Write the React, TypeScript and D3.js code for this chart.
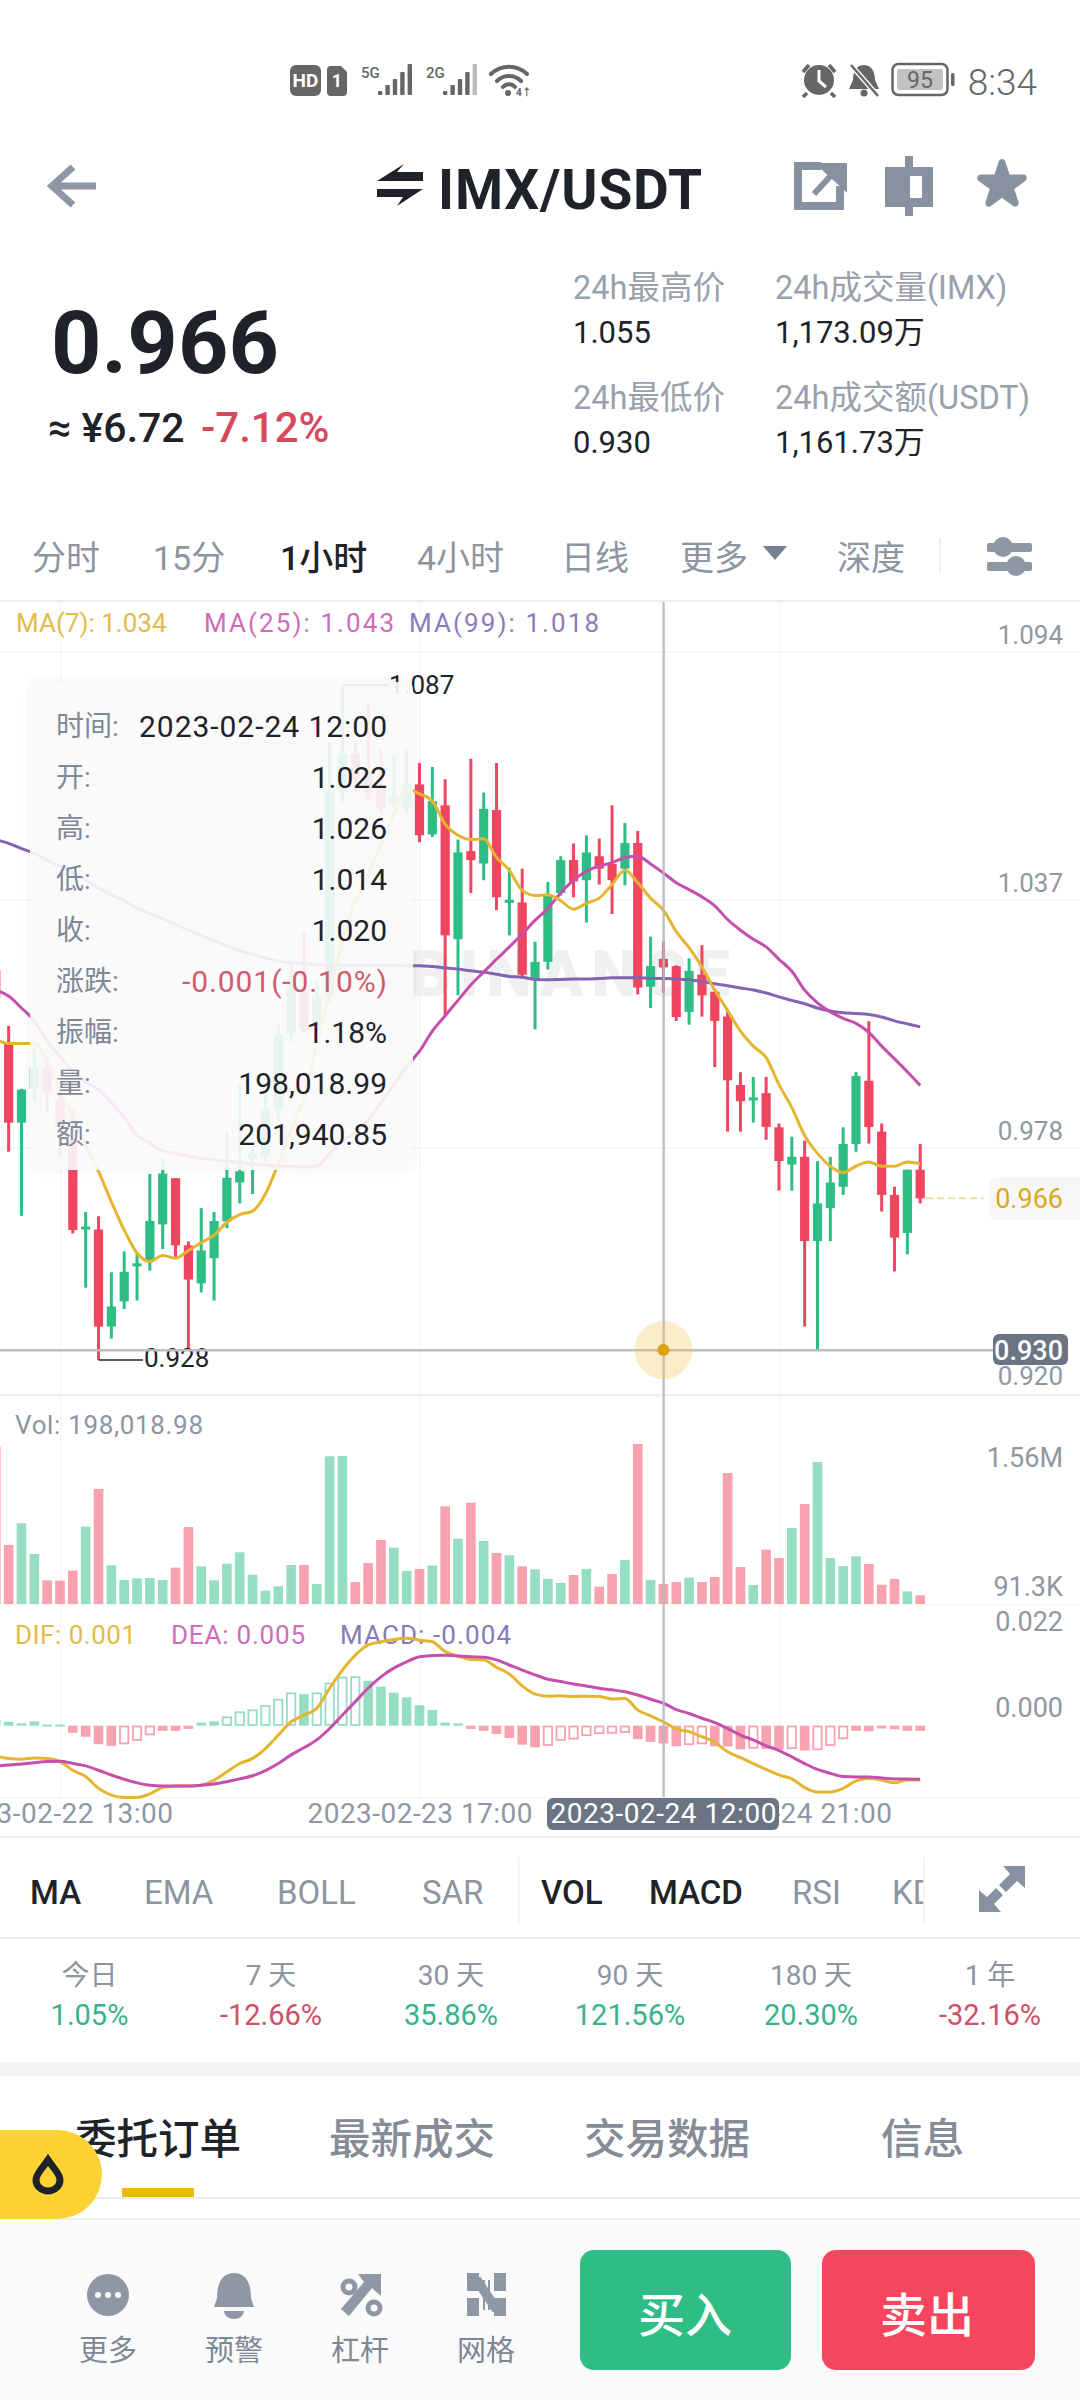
import * as d3 from "d3";

// candles run from one bar left of the visible edge up to the last hour
const opens = [1.0194,1.0022,0.9837,0.9916,0.9965,0.989,0.9796,0.959,0.9587,0.936,0.9419,0.9504,0.9514,0.9599,0.9707,0.955,0.9461,0.952,0.9606,0.9697,0.9753,0.9759,0.9867,1.0047,1.0147,1.0061,1.0135,1.0612,1.07,1.0655,1.0622,1.0585,1.0573,1.0628,1.0511,1.0579,1.0266,1.0472,1.0443,1.0568,1.0352,1.0352,1.0171,1.0213,1.0374,1.0451,1.0404,1.046,1.0442,1.0431,1.0491,1.0155,1.022,1.0203,1.0096,1.0183,1.0143,1.0085,0.9925,0.989,0.9906,0.9826,0.9739,0.9757,0.956,0.9637,0.9687,0.9787,0.9935,0.9816,0.9668,0.9579,0.9727];
const closes = [1.013,0.9837,0.9914,0.9965,0.9906,0.9827,0.9586,0.9594,0.936,0.9407,0.9488,0.9508,0.9607,0.9718,0.955,0.947,0.9538,0.9607,0.9708,0.9723,0.9765,0.9866,1.0042,1.0154,1.0054,1.0131,1.0612,1.07,1.064,1.0608,1.0573,1.06,1.0629,1.0509,1.0589,1.0275,1.0469,1.0451,1.0571,1.0364,1.0358,1.0183,1.0213,1.0371,1.0451,1.0401,1.0469,1.0431,1.0404,1.0491,1.0153,1.0203,1.02,1.0084,1.0192,1.0135,1.0075,0.9936,0.9887,0.9896,0.9827,0.9747,0.9757,0.956,0.9648,0.9697,0.9787,0.9946,0.9827,0.9668,0.9568,0.9727,0.966];
const highs = [1.022,1.0063,0.9916,1.0014,0.9991,0.9913,0.9866,0.9628,0.9618,0.9487,0.9536,0.9532,0.9717,0.9753,0.9707,0.9559,0.9637,0.9628,0.9816,0.9926,0.9781,0.9914,1.0066,1.0213,1.0283,1.0171,1.0726,1.086,1.0725,1.0819,1.0709,1.0697,1.0709,1.0678,1.0669,1.064,1.0499,1.0688,1.0609,1.0678,1.0433,1.0431,1.026,1.04,1.046,1.049,1.0509,1.0501,1.0579,1.0538,1.0519,1.0272,1.026,1.0205,1.0221,1.0252,1.0143,1.0102,0.9955,0.9944,0.9944,0.9835,0.9804,0.9795,0.9747,0.9757,0.9826,0.9955,1.0074,0.9835,0.9687,0.9727,0.9787];
const lows = [1.01,0.9769,0.9619,0.9885,0.986,0.9757,0.9578,0.9451,0.9282,0.9332,0.9401,0.9421,0.9491,0.9541,0.952,0.9306,0.944,0.9421,0.959,0.9648,0.967,0.9747,0.984,1.0026,1.0045,1.005,1.012,1.0583,1.0608,1.059,1.0561,1.0575,1.0561,1.0493,1.0505,1.0087,1.0135,1.0374,1.0404,1.0334,1.0275,1.0177,1.0055,1.0195,1.0368,1.0364,1.0305,1.0394,1.0325,1.0392,1.0137,1.0105,1.014,1.0075,1.0066,1.0085,0.9967,0.9816,0.9816,0.9837,0.9797,0.9678,0.9678,0.936,0.9303,0.956,0.9668,0.9769,0.9788,0.9629,0.9489,0.9529,0.9648];

const ma7 = [1.0031,1.0022,1.0022,1.0022,0.998,0.9914,0.9849,0.9783,0.9723,0.9652,0.9586,0.9532,0.9512,0.9526,0.952,0.9538,0.9556,0.9574,0.9604,0.9622,0.963,0.967,0.9741,0.9819,0.9896,1.0022,1.0141,1.026,1.0356,1.0416,1.0487,1.0559,1.0618,1.0606,1.0589,1.0535,1.0509,1.0499,1.0501,1.0457,1.0427,1.038,1.0368,1.037,1.0356,1.0336,1.035,1.0362,1.0394,1.0427,1.0398,1.0362,1.0334,1.0284,1.0246,1.0201,1.0147,1.0099,1.0051,1.0016,0.9989,0.9926,0.9872,0.9807,0.9765,0.9735,0.972,0.9735,0.9745,0.9735,0.9735,0.9745,0.9741];
const ma25 = [1.0147,1.0133,1.0105,1.0075,1.0028,0.9992,0.9956,0.9932,0.9914,0.9884,0.9849,0.9807,0.9789,0.9771,0.9765,0.9759,0.9753,0.975,0.9747,0.9744,0.974,0.9738,0.9735,0.9735,0.9733,0.9735,0.9765,0.9795,0.9813,0.9843,0.9884,0.9926,0.9968,1.0004,1.0051,1.0087,1.0123,1.0159,1.0189,1.0219,1.0248,1.0278,1.031,1.0338,1.0374,1.0404,1.0425,1.0437,1.0445,1.0457,1.046,1.0442,1.0421,1.0398,1.0382,1.0365,1.0344,1.0312,1.0287,1.0266,1.0248,1.0219,1.0191,1.0147,1.0117,1.0096,1.0081,1.0069,1.0048,1.0016,0.9986,0.9956,0.9924];
const ma99 = [1.0499,1.049,1.0478,1.0467,1.0451,1.0437,1.0421,1.0404,1.0386,1.037,1.0356,1.0338,1.0326,1.0314,1.03,1.0288,1.0275,1.0263,1.0251,1.0239,1.0231,1.0222,1.0215,1.0211,1.0209,1.0207,1.0205,1.0205,1.0205,1.0205,1.0205,1.0205,1.0204,1.0204,1.0202,1.0199,1.0196,1.0192,1.0189,1.0184,1.0179,1.0177,1.0172,1.0171,1.0172,1.0173,1.0173,1.0174,1.0176,1.0176,1.0176,1.0174,1.0174,1.0173,1.0171,1.0167,1.0162,1.0157,1.0152,1.0147,1.014,1.0131,1.0123,1.0115,1.0105,1.0098,1.0094,1.0092,1.009,1.0084,1.0075,1.0068,1.0061];

const volumes = [1558000,584000,799000,495000,234000,231000,330000,766000,1139000,383000,238000,254000,257000,238000,360000,762000,373000,234000,399000,512000,290000,132000,175000,386000,386000,198000,1462000,1465000,218000,406000,634000,558000,327000,347000,380000,967000,647000,1003000,624000,505000,482000,373000,343000,248000,208000,287000,347000,172000,297000,436000,1584000,238000,198018,218000,261000,218000,267000,1297000,366000,188000,538000,455000,752000,990000,1406000,455000,376000,472000,396000,191000,248000,125000,86000];

const dif = [-0.0077,-0.0083,-0.0085,-0.0082,-0.0083,-0.0091,-0.0113,-0.0129,-0.0159,-0.0176,-0.0182,-0.0182,-0.0173,-0.0157,-0.0153,-0.0153,-0.0151,-0.0138,-0.0117,-0.0096,-0.0083,-0.0058,-0.0024,0.001,0.0027,0.0044,0.0095,0.0141,0.0179,0.0205,0.0213,0.0219,0.0222,0.0217,0.0213,0.0188,0.0177,0.0168,0.0167,0.0148,0.0131,0.0101,0.008,0.0075,0.0076,0.0074,0.0075,0.0074,0.0068,0.0069,0.004,0.0025,0.001,-0.0008,-0.0015,-0.0028,-0.0042,-0.0066,-0.0081,-0.0096,-0.0111,-0.0125,-0.0135,-0.0157,-0.0168,-0.0168,-0.0159,-0.014,-0.0134,-0.0138,-0.0145,-0.0138,-0.0138];
const dea = [-0.0102,-0.01,-0.0097,-0.0094,-0.0091,-0.009,-0.0096,-0.0102,-0.0113,-0.0125,-0.0136,-0.0145,-0.0151,-0.0153,-0.0153,-0.0153,-0.0151,-0.0148,-0.0142,-0.0135,-0.0127,-0.0114,-0.0096,-0.0074,-0.0056,-0.0036,-0.0007,0.0027,0.0061,0.0095,0.0124,0.0146,0.0162,0.0175,0.0178,0.0179,0.0177,0.0175,0.0174,0.0167,0.0154,0.0141,0.0129,0.0118,0.0112,0.0106,0.0101,0.0095,0.0091,0.0086,0.0078,0.0067,0.0057,0.0041,0.0031,0.0019,0.0008,-0.0007,-0.0024,-0.0036,-0.0051,-0.0063,-0.0079,-0.0096,-0.0111,-0.0121,-0.0129,-0.013,-0.013,-0.0133,-0.0135,-0.0135,-0.0136];
const macdHist = [0.0014,0.001,0.0006,0.0011,0.0003,0.0003,-0.0018,-0.0028,-0.0047,-0.0051,-0.0047,-0.0038,-0.0024,-0.0013,-0.0013,-0.0008,0.0008,0.0011,0.0023,0.0036,0.0041,0.0052,0.0068,0.0084,0.008,0.0084,0.0109,0.0124,0.0125,0.0114,0.0099,0.0084,0.0072,0.0052,0.004,0.0008,0.0006,-0.0008,-0.0013,-0.0021,-0.0031,-0.0048,-0.0055,-0.0051,-0.0038,-0.0035,-0.0026,-0.0021,-0.002,-0.0018,-0.0034,-0.0041,-0.0045,-0.0052,-0.0049,-0.0047,-0.0052,-0.0053,-0.006,-0.0058,-0.0059,-0.0061,-0.0059,-0.0063,-0.0062,-0.0051,-0.0034,-0.0013,-0.0014,-0.0007,-0.0009,-0.0013,-0.0013];

const priceTicks = [1.094, 1.036, 0.978, 0.92];
const priceTickLabels = ["1.094", "1.037", "0.978"];
const timeTickIndex = [5, 33, 61];
const timeTickLabels = ["2023-02-22 13:00", "2023-02-23 17:00", "2023-02-24 21:00"];
const hoverIndex = 52;
const hoverTime = "2023-02-24 12:00";
const hoverPrice = 0.9305;
const lastPrice = 0.966;
const highIndex = 27;
const lowIndex = 8;

const intervals = ["分时", "15分", "1小时", "4小时", "日线", "更多", "深度"];
const indicators = ["MA", "EMA", "BOLL", "SAR", "VOL", "MACD", "RSI", "KDJ"];
const periods = ["今日", "7 天", "30 天", "90 天", "180 天", "1 年"];
const periodChanges = ["1.05%", "-12.66%", "35.86%", "121.56%", "20.30%", "-32.16%"];
const tabs = ["委托订单", "最新成交", "交易数据", "信息"];
const navLabels = ["更多", "预警", "杠杆", "网格"];
const tooltipLabels = ["时间:", "开:", "高:", "低:", "收:", "涨跌:", "振幅:", "量:", "额:"];
const tooltipValues = ["2023-02-24 12:00", "1.022", "1.026", "1.014", "1.020", "-0.001(-0.10%)", "1.18%", "198,018.99", "201,940.85"];

const GREEN = "#2ebd85";
const RED = "#f0455e";
const INK = "#1e2329";
const GREY = "#8d95a1";
const AXIS = "#8f97a3";
const GRID = "#f5f6f6";
const RULE = "#eeeff1";
const STATUS = "#666666";
const FONT = "Roboto, 'Noto Sans CJK SC', sans-serif";
const YELLOW_LINE = "#e6b530";
const PINK_LINE = "#c64fae";
const PURPLE_LINE = "#8563b3";

const x = d3.scaleLinear().domain([0, opens.length - 1]).range([-4.2, 920.2]);
const y = d3.scaleLinear().domain([0.92, 1.094]).range([1395, 651]);
const volY = d3.scaleLinear().domain([0, 1584000]).range([1604, 1444]);
const macdY = d3.scaleLinear().domain([0, 0.022]).range([1725.7, 1639]);

const priceLine = d3.line<number>().x((_, i) => x(i)).y((d) => y(d)).curve(d3.curveMonotoneX);
const macdLine = d3.line<number>().x((_, i) => x(i)).y((d) => macdY(d)).curve(d3.curveMonotoneX);
const starPath = d3.symbol().type(d3.symbolStar).size(560)() as string;

const T = ({ x, y, size, fill = INK, anchor = "start", weight = 400, length, children }: any) => (
    <text x={x} y={y} fontSize={size} fill={fill} textAnchor={anchor} fontWeight={weight} fontFamily={FONT} textLength={length}>
        {children}
    </text>
);

const signalBars = [4, 10, 16, 23, 31];
const Signal = ({ left, label }: { left: number; label: string }) => (
    <g fill={STATUS}>
        <T x={left} y={78} size={15} fill={STATUS} weight={500}>{label}</T>
        {signalBars.map((h, i) => (
            <rect key={i} x={left + 17 + i * 7.4} y={95 - h} width={4.4} height={h} rx={1} opacity={label === "2G" && i === 4 ? 0.45 : 1} />
        ))}
    </g>
);

const StatusBar = () => (
    <g>
        <rect x={290} y={65} width={31} height={31} rx={6} fill={STATUS} />
        <T x={305.5} y={87} size={19} fill="#fff" anchor="middle" weight={700}>HD</T>
        <path d="M327 70 a4 4 0 0 1 4 -4 h10 l6 6 v20 a4 4 0 0 1 -4 4 h-12 a4 4 0 0 1 -4 -4 z" fill={STATUS} />
        <T x={337} y={87} size={18} fill="#fff" anchor="middle" weight={700}>1</T>
        <Signal left={361} label="5G" />
        <Signal left={426} label="2G" />
        <g fill="none" stroke={STATUS} strokeWidth={4} strokeLinecap="round">
            <path d="M491 74 A26 26 0 0 1 527 74" />
            <path d="M497 81 A17 17 0 0 1 521 81" />
            <path d="M503 87 A8 8 0 0 1 515 87" />
        </g>
        <circle cx={508} cy={93} r={3} fill={STATUS} />
        <T x={516} y={96} size={10} fill={STATUS} weight={700}>4↑</T>
        <circle cx={819} cy={80} r={15} fill={STATUS} />
        <path d="M819 70 V81 L826 87" stroke="#fff" strokeWidth={3} fill="none" />
        <path d="M803 72 L809 65 M835 72 L829 65 M807 93 L803 97 M831 93 L835 97" stroke={STATUS} strokeWidth={3.5} />
        <path d="M864 65 C855 65 853 74 853 80 L849 89 H879 L875 80 C875 74 873 65 864 65 Z" fill={STATUS} />
        <circle cx={864} cy={93} r={3.5} fill={STATUS} />
        <path d="M851 65 L878 96" stroke="#fff" strokeWidth={5} />
        <path d="M851 65 L878 96" stroke={STATUS} strokeWidth={2.5} />
        <rect x={892.5} y={64} width={55} height={31} rx={6} fill="none" stroke={STATUS} strokeWidth={2.5} />
        <rect x={897} y={69} width={46} height={21} rx={2} fill="#c2c2c2" />
        <T x={920} y={88} size={23} fill={STATUS} anchor="middle">95</T>
        <rect x={951} y={73} width={3.5} height={13} rx={1.5} fill={STATUS} />
        <T x={1037} y={95} size={37} fill={STATUS} anchor="end" weight={300}>8:34</T>
    </g>
);

const Header = () => (
    <g>
        <path d="M96 186 H52 M73 167 L52 186 L73 205" fill="none" stroke="#8e97a3" strokeWidth={7} />
        <path d="M423 172 H397 L404 164 L377 181 H423 Z M377 189 H423 L397 206 L403 197 H377 Z" fill={INK} />
        <T x={438} y={209} size={55} weight={700} length={264}>IMX/USDT</T>
        <path d="M821 166 H798 V206 H840 V186" fill="none" stroke="#87919f" strokeWidth={8} />
        <path d="M814 194 L836 170 M822 166 H844 V186 Z" stroke="#87919f" strokeWidth={6} fill="#87919f" />
        <rect x={885} y={167} width={48} height={40} fill="#87919f" />
        <rect x={905} y={156} width={8} height={60} fill="#87919f" />
        <rect x={910} y={176} width={12} height={22} fill="#fff" />
        <path d={starPath} transform="translate(1002,185)" fill="#87919f" stroke="#87919f" strokeWidth={7} strokeLinejoin="round" />

        <T x={51} y={373} size={88} weight={700} length={228}>0.966</T>
        <T x={48} y={442} size={41} weight={500}>≈ ¥6.72</T>
        <T x={201} y={442} size={42} fill="#d9475c" weight={500}>-7.12%</T>

        <T x={573} y={299} size={32.5} fill="#99a1ac">24h最高价</T>
        <T x={573} y={343} size={31}>1.055</T>
        <T x={775} y={299} size={32.5} fill="#99a1ac">24h成交量(IMX)</T>
        <T x={775} y={343} size={31}>1,173.09万</T>
        <T x={573} y={409} size={32.5} fill="#99a1ac">24h最低价</T>
        <T x={573} y={453} size={31}>0.930</T>
        <T x={775} y={409} size={32.5} fill="#99a1ac">24h成交额(USDT)</T>
        <T x={775} y={453} size={31}>1,161.73万</T>

        {intervals.map((label, i) => (
            <T key={label} x={[32, 153, 280, 417, 561, 680, 837][i]} y={570} size={34} fill={label === "1小时" ? INK : GREY} weight={label === "1小时" ? 500 : 400}>
                {label}
            </T>
        ))}
        <path d="M763 546 H787 L775 560 Z" fill="#76808e" />
        <rect x={939} y={538} width={2} height={34} fill={RULE} />
        <g fill="#8e97a3">
            <rect x={987} y={543} width={45} height={9} rx={2} />
            <circle cx={1003} cy={547} r={10} />
            <rect x={987} y={562} width={45} height={9} rx={2} />
            <circle cx={1016} cy={566} r={10} />
        </g>
    </g>
);

const Candles = () => (
    <g>
        {opens.map((o, i) => {
            const c = closes[i];
            const col = c < o ? RED : GREEN;
            const top = y(Math.max(o, c));
            return (
                <g key={i} fill={col}>
                    <rect x={x(i) - 1.5} y={y(highs[i])} width={3} height={y(lows[i]) - y(highs[i])} />
                    <rect x={x(i) - 4.6} y={top} width={9.2} height={Math.max(3, y(Math.min(o, c)) - top)} />
                </g>
            );
        })}
    </g>
);

const PricePane = () => (
    <g>
        <rect y={600} width={1080} height={2} fill={RULE} />
        {timeTickIndex.map((t) => (
            <rect key={t} x={x(t)} y={602} width={1.5} height={1195} fill={GRID} />
        ))}
        {priceTicks.map((p) => (
            <rect key={p} y={y(p)} width={1080} height={1.5} fill={GRID} />
        ))}
        <text x={410} y={996} fontSize={64} fontWeight={900} fill="#eff0f2" fontFamily={FONT} textLength={320}>BINANCE</text>

        <T x={16} y={632} size={26} fill="#e1bc4a">MA(7): 1.034</T>
        <T x={204} y={632} size={26} fill="#cf6cb9" length={190}>MA(25): 1.043</T>
        <T x={409} y={632} size={26} fill="#9079b9" length={190}>MA(99): 1.018</T>

        <Candles />
        <path d={priceLine(ma99) as string} fill="none" stroke={PURPLE_LINE} strokeWidth={3} />
        <path d={priceLine(ma25) as string} fill="none" stroke={PINK_LINE} strokeWidth={3} />
        <path d={priceLine(ma7) as string} fill="none" stroke={YELLOW_LINE} strokeWidth={3} />

        <path d={`M${x(lowIndex)} ${y(lows[lowIndex])} H143`} stroke={INK} strokeWidth={1.5} />
        <T x={144} y={1367} size={26}>0.928</T>
        <path d={`M${x(highIndex)} ${y(highs[highIndex])} H389`} stroke={INK} strokeWidth={1.5} />
        <T x={389} y={694} size={26}>1.087</T>

        {priceTickLabels.map((label, i) => (
            <T key={label} x={1063} y={y(priceTicks[i]) - 7} size={26} fill={AXIS} anchor="end">{label}</T>
        ))}
        <path d={`M926 ${y(lastPrice)} H984`} stroke="#f3dda0" strokeWidth={2} strokeDasharray="7 4" />
        <rect x={990} y={y(lastPrice) - 21} width={95} height={43} rx={7} fill="#f6f6f6" />
        <T x={1063} y={y(lastPrice) + 10} size={27} fill="#dca820" anchor="end">0.966</T>
    </g>
);

const VolumePane = () => (
    <g>
        <rect y={1394} width={1080} height={2} fill={RULE} />
        <rect y={1604} width={1080} height={1.5} fill={GRID} />
        <T x={15} y={1434} size={26} fill={GREY} length={188}>Vol: 198,018.98</T>
        {volumes.map((v, i) => (
            <rect key={i} x={x(i) - 4.8} y={volY(v)} width={9.6} height={1604 - volY(v)} fill={closes[i] < opens[i] ? RED : GREEN} opacity={0.5} />
        ))}
        <T x={1063} y={1467} size={27} fill={AXIS} anchor="end">1.56M</T>
        <T x={1063} y={1596} size={27} fill={AXIS} anchor="end">91.3K</T>
    </g>
);

const MacdPane = () => (
    <g>
        <rect y={1797} width={1080} height={1.5} fill={GRID} />
        <T x={15} y={1644} size={26} fill="#e1bc4a" length={121}>DIF: 0.001</T>
        <T x={171} y={1644} size={26} fill="#cf6cb9" length={134}>DEA: 0.005</T>
        <T x={340} y={1644} size={26} fill="#8a78b8" length={171}>MACD: -0.004</T>
        {macdHist.map((h, i) => {
            const top = Math.min(macdY(h), macdY(0));
            const height = Math.abs(macdY(h) - macdY(0));
            const col = h < 0 ? RED : GREEN;
            // bars that are moving up are drawn hollow, unless too thin to show it
            const hollow = i > 0 && h > macdHist[i - 1] && height > 6;
            return hollow ? (
                <rect key={i} x={x(i) - 4.2} y={top + 0.8} width={8.4} height={height - 1.6} fill="#fff" stroke={col} strokeOpacity={0.5} strokeWidth={1.8} />
            ) : (
                <rect key={i} x={x(i) - 4.8} y={top} width={9.6} height={Math.max(2, height)} fill={col} opacity={0.5} />
            );
        })}
        <path d={macdLine(dif) as string} fill="none" stroke={YELLOW_LINE} strokeWidth={3} />
        <path d={macdLine(dea) as string} fill="none" stroke={PINK_LINE} strokeWidth={3} />
        <T x={1063} y={1631} size={27} fill={AXIS} anchor="end">0.022</T>
        <T x={1063} y={1717} size={27} fill={AXIS} anchor="end">0.000</T>
        {timeTickIndex.map((t, i) => (
            <T key={t} x={x(t) - 112} y={1823} size={28} fill={AXIS} length={225}>{timeTickLabels[i]}</T>
        ))}
    </g>
);

const Crosshair = () => (
    <g>
        <rect x={x(hoverIndex) - 1} y={602} width={2.4} height={1195} fill="#b4b9bf" opacity={0.9} />
        <rect y={y(hoverPrice) - 1} width={995} height={2.4} fill="#b9bdc3" />
        <circle cx={x(hoverIndex)} cy={y(hoverPrice)} r={29} fill="#f0c040" opacity={0.28} />
        <circle cx={x(hoverIndex)} cy={y(hoverPrice)} r={6} fill="#e0a010" />
        <T x={1063} y={1385} size={26} fill={AXIS} anchor="end">0.920</T>
        <rect x={993} y={1334} width={75} height={31} rx={6} fill="#6b7483" />
        <T x={1063} y={1360} size={27} fill="#fff" anchor="end" weight={500}>0.930</T>
        <rect x={547} y={1798} width={232} height={32} rx={6} fill="#6b7483" />
        <T x={x(hoverIndex) - 113} y={1823} size={28} fill="#fff" length={226}>{hoverTime}</T>
    </g>
);

const Tooltip = () => (
    <g>
        <defs>
            <filter id="tipShadow" x="-10%" y="-10%" width="120%" height="120%">
                <feDropShadow dx={0} dy={0} stdDeviation={4} floodColor="#000" floodOpacity={0.07} />
            </filter>
        </defs>
        <rect x={30} y={682} width={383} height={488} rx={7} fill="#fafafb" fillOpacity={0.91} filter="url(#tipShadow)" />
        {tooltipLabels.map((label, i) => {
            const long = i === 0 ? 248 : i === 5 ? 205 : undefined;
            return (
                <g key={label}>
                    <T x={56} y={736 + i * 51} size={28} fill="#7f8895">{label}</T>
                    <T x={long ? 387 - long : 387} y={737 + i * 51} size={30} fill={label === "涨跌:" ? "#cf5b6d" : INK} anchor={long ? "start" : "end"} length={long}>
                        {tooltipValues[i]}
                    </T>
                </g>
            );
        })}
    </g>
);

const LowerPanels = () => (
    <g>
        <rect y={1836} width={1080} height={2} fill={RULE} />
        <defs>
            <clipPath id="indicatorClip">
                <rect x={0} y={1850} width={923} height={80} />
            </clipPath>
        </defs>
        <g clipPath="url(#indicatorClip)">
            {indicators.map((label, i) => {
                const on = label === "MA" || label === "VOL" || label === "MACD";
                return (
                    <T key={label} x={[30, 144, 277, 422, 541, 649, 792, 892][i]} y={1904} size={33} fill={on ? INK : GREY} weight={on ? 500 : 400}>
                        {label}
                    </T>
                );
            })}
        </g>
        <rect x={518} y={1857} width={1.5} height={66} fill={RULE} />
        <rect x={923} y={1857} width={1.5} height={66} fill={RULE} />
        <g fill="#87919f">
            <path d="M1025 1866 V1888 L1017 1881 L1006 1892 L999 1885 L1010 1874 L1003 1866 Z" />
            <path d="M979 1912 V1890 L987 1897 L996 1888 L1003 1895 L994 1904 L1001 1912 Z" />
        </g>
        <rect y={1937} width={1080} height={2} fill={RULE} />
        {periods.map((label, i) => (
            <g key={label}>
                <T x={[89.5, 271, 451, 630, 811, 990][i]} y={1985} size={28} fill={GREY} anchor="middle">{label}</T>
                <T x={[89.5, 271, 451, 630, 811, 990][i]} y={2025} size={29} fill={periodChanges[i].startsWith("-") ? "#cf4f64" : "#38b288"} anchor="middle">
                    {periodChanges[i]}
                </T>
            </g>
        ))}
        <rect y={2062} width={1080} height={14} fill="#f5f5f5" />
        {tabs.map((label, i) => (
            <T key={label} x={[75, 329, 584, 881][i]} y={2154} size={41.5} fill={i === 0 ? INK : "#858c98"} weight={500}>{label}</T>
        ))}
        <rect x={122} y={2188} width={72} height={9} fill="#e8b90f" />
        <rect y={2197} width={1080} height={2} fill={RULE} />
        <rect y={2219} width={1080} height={181} fill="#fafafa" />
        <rect y={2218} width={1080} height={2} fill={RULE} />
        <path d="M0 2130 H57 A45 44.5 0 0 1 57 2219 H0 Z" fill="#fdd333" />
        <path d="M48 2160 C42 2169 36 2174 36 2180 A12 11 0 0 0 60 2180 C60 2174 54 2169 48 2160 Z" fill="none" stroke={INK} strokeWidth={7} />

        <g fill="#8e97a3">
            <circle cx={108} cy={2295} r={21} />
            <circle cx={98} cy={2295} r={3} fill="#fafafa" />
            <circle cx={108} cy={2295} r={3} fill="#fafafa" />
            <circle cx={118} cy={2295} r={3} fill="#fafafa" />
            <path d="M234 2273 C221 2273 217 2285 217 2298 L214 2307 H254 L251 2298 C251 2285 247 2273 234 2273 Z" />
            <path d="M224 2311 H244 A10 8 0 0 1 224 2311 Z" />
            <path d="M381 2274 V2296 L372 2288 L349 2316 L341 2309 L364 2282 L358 2274 Z" />
            <circle cx={349} cy={2287} r={6} fill="none" stroke="#8e97a3" strokeWidth={5} />
            <circle cx={374} cy={2308} r={6} fill="none" stroke="#8e97a3" strokeWidth={5} />
            <rect x={467} y={2273} width={12} height={18} />
            <rect x={494} y={2273} width={12} height={18} />
            <rect x={467} y={2298} width={12} height={18} />
            <rect x={494} y={2298} width={12} height={18} />
            <path d="M471 2278 H480 L502 2311 H493 Z M484 2280 V2310 M489 2280 V2310" stroke="#8e97a3" strokeWidth={2} />
        </g>
        {navLabels.map((label, i) => (
            <T key={label} x={[108, 234, 360, 486][i]} y={2361} size={29} fill="#7e8794" anchor="middle">{label}</T>
        ))}
        <rect x={580} y={2250} width={211} height={120} rx={14} fill={GREEN} />
        <T x={685} y={2332} size={47} fill="#fff" anchor="middle" weight={500}>买入</T>
        <rect x={822} y={2250} width={213} height={120} rx={14} fill="#f6465d" />
        <T x={927} y={2332} size={47} fill="#fff" anchor="middle" weight={500}>卖出</T>
    </g>
);

export default function App() {
    return (
        <svg width={1080} height={2400} viewBox="0 0 1080 2400" style={{ position: "absolute", left: 0, top: 0, background: "#fff" }}>
            <StatusBar />
            <Header />
            <PricePane />
            <VolumePane />
            <MacdPane />
            <Crosshair />
            <Tooltip />
            <LowerPanels />
        </svg>
    );
}
